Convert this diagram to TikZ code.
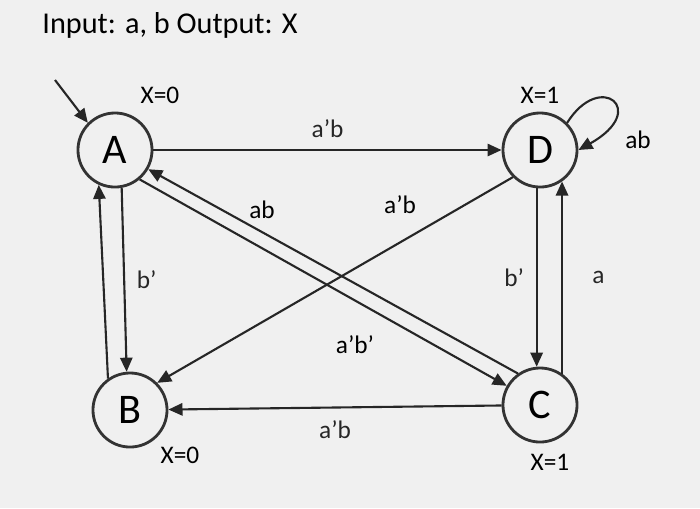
\documentclass[tikz,border=0pt]{standalone}
\usepackage{fontspec}
\setmainfont{Carlito}
\usetikzlibrary{arrows.meta}
\begin{document}
\begin{tikzpicture}[x=0.01cm,y=-0.01cm,
  st/.style={circle,draw=black!80,line width=0.8pt,minimum size=0.74cm,inner sep=0pt,font=\fontsize{12}{12}\selectfont},
  lbl/.style={font=\fontsize{7.2}{7.5}\selectfont},
  tr/.style={-{Triangle[length=4pt,width=3.5pt]},line width=0.6pt,black!85}]
\fill[black!6] (0,0) rectangle (700,508);
\useasboundingbox (0,0) rectangle (700,508);
\node[anchor=west,font=\fontsize{8.6}{9}\selectfont] (title) at (30,25) {Input: a, b Output: X};
\node[st] (A) at (115,150) {A};
\node[st] (D) at (540,150) {D};
\node[st] (B) at (130,410) {B};
\node[st] (C) at (540,405) {C};
\node[lbl] (xa) at (160,95) {X=0};
\node[lbl] (xd) at (540,95) {X=1};
\node[lbl] (xb) at (180,455) {X=0};
\node[lbl] (xc) at (550,462) {X=1};
\coordinate (init) at (55,80);
\draw[tr] (init) -- (A.north west);
\draw[tr] (A) -- node[lbl,above] {a’b} (D);
\draw[tr] (D.north east) .. controls (600,70) and (650,110) .. (D.east);
\node[lbl] (lab) at (638,140) {ab};
\draw[tr] (A.-80) -- node[lbl,right] {b’} (B.95);
\draw[tr] (B.125) -- (A.-115);
\draw[tr] (D.-95) -- node[lbl,left] {b’} (C.95);
\draw[tr] (C.55) -- node[lbl,right=5pt] {a} (D.-55);
\draw[tr] (C) -- node[lbl,below] {a'b} (B);
\draw[tr] (D.south west) -- (B.north east);
\node[lbl] (l1) at (400,205) {a’b};
\draw[tr] (C.125) -- (A.-30);
\node[lbl] (l2) at (262,210) {ab};
\draw[tr] (A.-50) -- (C.150);
\node[lbl] (l3) at (355,345) {a’b’};
\end{tikzpicture}
\end{document}
